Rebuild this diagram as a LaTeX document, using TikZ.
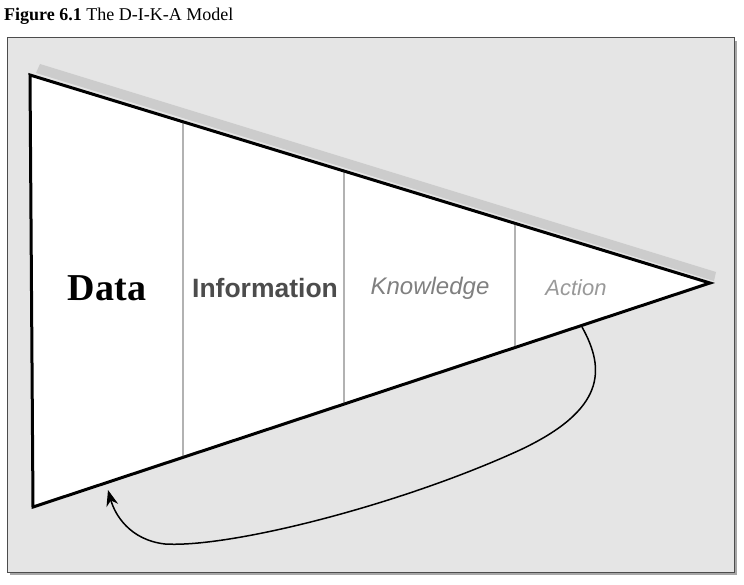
\documentclass[tikz,border=0pt]{standalone}
\usepackage{fontspec}
\setmainfont{Liberation Serif}
\setsansfont{Liberation Sans}
\usetikzlibrary{arrows.meta}
\begin{document}
\begin{tikzpicture}[x=1pt,y=-1pt,
  divider/.style={draw=black!85,line width=0.7pt},
  lbl/.style={font=\sffamily, anchor=center}]
\useasboundingbox (0,0) rectangle (744,585);
\fill[white] (0,0) rectangle (744,585);
\node[anchor=west,font=\fontsize{18}{21}\selectfont,inner sep=0pt] (title) at (4,16) {\textbf{Figure 6.1} The D-I-K-A Model};
% frame with shadow
\fill[black!35] (10,41) rectangle (737,575);
\filldraw[fill=black!10,draw=black!70,line width=1pt] (7,38) rectangle (734,572);
% top shadow
\fill[black!20] (40,64) -- (716,272) -- (714,281) -- (36,73) -- cycle;
% triangle
\coordinate (tl) at (30,75);
\coordinate (bl) at (33,507);
\coordinate (tip) at (710,283);
\filldraw[fill=white,draw=black,line width=3pt,line join=miter] (tl) -- (tip) -- (bl) -- cycle;
% dividers
\foreach \x [count=\i] in {183,344,515}{
  \path (tl) -- (tip) coordinate[pos={(\x-30)/680}] (t\i);
  \path (bl) -- (tip) coordinate[pos={(\x-33)/677}] (b\i);
  \draw[divider] (t\i) -- (b\i);
}
\node[font=\fontsize{38}{42}\selectfont\bfseries] (data) at (107,288) {Data};
\node[lbl,font=\sffamily\bfseries\fontsize{26.5}{30}\selectfont,text=black!70] (info) at (265,288) {Information};
\node[lbl,font=\sffamily\itshape\fontsize{24}{28}\selectfont,text=black!50] (know) at (430,288) {Knowledge};
\node[lbl,font=\sffamily\itshape\fontsize{22}{26}\selectfont,text=black!40] (act) at (576,288) {Action};
% feedback arrow
\coordinate (as) at (582,327);
\coordinate (ae) at (108,490);
\draw[line width=1.5pt,-{Stealth[length=16pt,width=12pt]}] (as) .. controls (606,370) and (605,410) .. (520,450)
  .. controls (400,505) and (230,548) .. (165,544)
  .. controls (130,540) and (115,515) .. (ae);
\end{tikzpicture}
\end{document}
